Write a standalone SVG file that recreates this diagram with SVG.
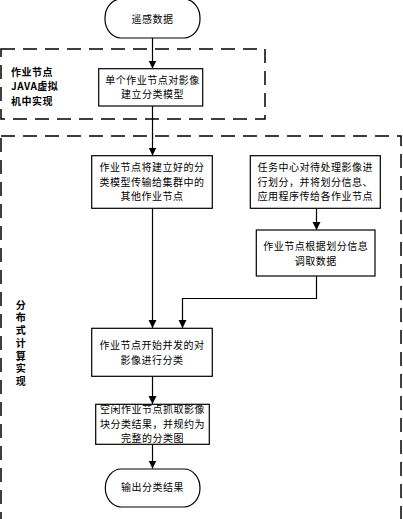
<svg xmlns="http://www.w3.org/2000/svg" width="403" height="519" viewBox="0 0 403 519">
<defs>
<style>
.bg{fill:#fff}
.box{fill:#fff;stroke:#000;stroke-width:1.2}
.dash{fill:none;stroke:#000;stroke-width:1.5;stroke-dasharray:14 8}
.t{font-family:"Noto Sans CJK SC","Noto Sans CJK JP",sans-serif;font-size:10px;letter-spacing:0.5px;fill:#000;text-anchor:middle}
.b{font-family:"Noto Sans CJK SC","Noto Sans CJK JP",sans-serif;font-size:10px;letter-spacing:0.5px;font-weight:bold;fill:#000}
.v{writing-mode:vertical-rl;text-orientation:upright;letter-spacing:2.7px}
.c{fill:none;stroke:#000;stroke-width:1.2}
</style>
<marker id="arr" viewBox="0 0 8 10" refX="8" refY="4" markerWidth="8" markerHeight="10" orient="auto" markerUnits="userSpaceOnUse">
<path d="M0,0 L8,4 L0,8 Z" fill="#000"/>
</marker>
</defs>
<rect class="bg" x="0" y="0" width="403" height="519"/>

<g id="group-jvm">
<rect class="dash" x="1" y="49" width="264" height="70"/>
<text class="b" x="11" y="75.6">作业节点<tspan x="11" dy="14.5">JAVA虚拟</tspan><tspan x="11" dy="14.5">机中实现</tspan></text>
</g>

<g id="group-dist">
<rect class="dash" x="1" y="136" width="400" height="400"/>
<text class="b v" x="20.7" y="300">分布式计算实现</text>
</g>

<g id="connectors">
<path class="c" d="M152.5,38 V68.5" marker-end="url(#arr)"/>
<path class="c" d="M152.5,106 V155.5" marker-end="url(#arr)"/>
<path class="c" d="M152.5,208.5 V328" marker-end="url(#arr)"/>
<path class="c" d="M316.5,208.5 V230" marker-end="url(#arr)"/>
<path class="c" d="M316.5,276 V298.5 H182.5 V328" marker-end="url(#arr)"/>
<path class="c" d="M152.5,376.5 V404" marker-end="url(#arr)"/>
<path class="c" d="M152.5,444.5 V468.5" marker-end="url(#arr)"/>
</g>

<g id="n-start">
<rect class="box" x="105" y="-1" width="95" height="39" rx="16" ry="19"/>
<text class="t" x="152.5" y="22.8">遥感数据</text>
</g>

<g id="n-build">
<rect class="box" x="98.7" y="68.7" width="104" height="37.3"/>
<text class="t" x="152.5" y="83.8">单个作业节点对影像<tspan x="152.5" dy="14.5">建立分类模型</tspan></text>
</g>

<g id="n-transfer">
<rect class="box" x="91.7" y="155.7" width="120.6" height="52.6"/>
<text class="t" x="152" y="171">作业节点将建立好的分<tspan x="152" dy="14.5">类模型传输给集群中的</tspan><tspan x="152" dy="14.5">其他作业节点</tspan></text>
</g>

<g id="n-task">
<rect class="box" x="250.3" y="155.7" width="130" height="52.6"/>
<text class="t" x="315.3" y="171">任务中心对待处理影像进<tspan x="315.3" dy="14.5">行划分，并将划分信息、</tspan><tspan x="315.3" dy="14.5">应用程序传给各作业节点</tspan></text>
</g>

<g id="n-fetch">
<rect class="box" x="256.3" y="230" width="118.7" height="46"/>
<text class="t" x="315.7" y="250.3">作业节点根据划分信息<tspan x="315.7" dy="14.5">调取数据</tspan></text>
</g>

<g id="n-classify">
<rect class="box" x="91.7" y="328.3" width="120.6" height="48"/>
<text class="t" x="152" y="349.3">作业节点开始并发的对<tspan x="152" dy="14.5">影像进行分类</tspan></text>
</g>

<g id="n-reduce">
<rect class="box" x="95.7" y="404.3" width="113.6" height="40"/>
<text class="t" x="152.5" y="413.4">空闲作业节点抓取影像<tspan x="152.5" dy="14.5">块分类结果，并规约为</tspan><tspan x="152.5" dy="14.5">完整的分类图</tspan></text>
</g>

<g id="n-end">
<rect class="box" x="105.3" y="469" width="94.7" height="38" rx="16" ry="19"/>
<text class="t" x="152.5" y="491">输出分类结果</text>
</g>
</svg>
